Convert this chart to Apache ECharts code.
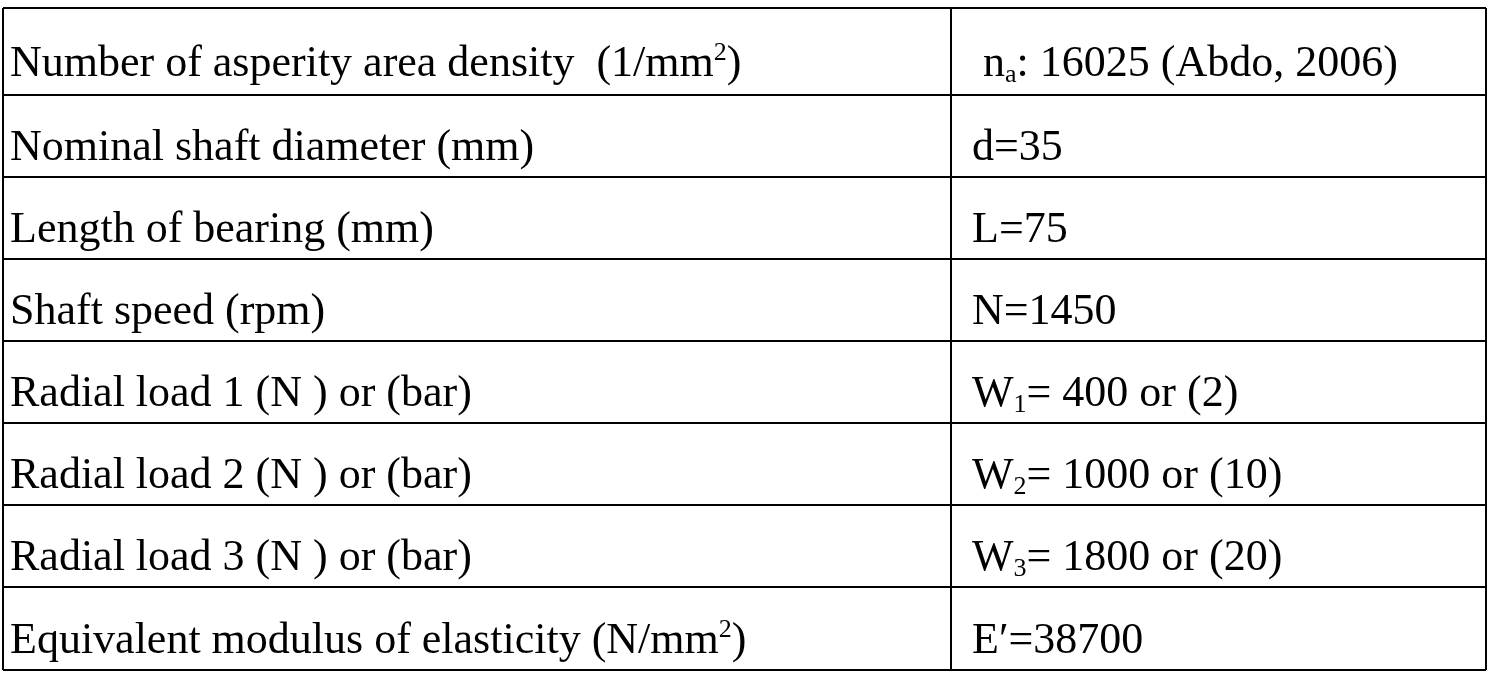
<!DOCTYPE html>
<html>
<head>
<meta charset="utf-8">
<title>Bearing parameters</title>
<script src="https://cdn.jsdelivr.net/npm/echarts@6/dist/echarts.min.js"></script>
<style>
  html, body { margin: 0; padding: 0; background: #fff; }
  #main { width: 1489px; height: 681px; }
</style>
</head>
<body>
<div id="main"></div>
<script>
// table content (rich text markup for sub/superscripts)
var paramNames = [
  'Number of asperity area density  (1/mm{sup|2})',
  'Nominal shaft diameter (mm)',
  'Length of bearing (mm)',
  'Shaft speed (rpm)',
  'Radial load 1 (N ) or (bar)',
  'Radial load 2 (N ) or (bar)',
  'Radial load 3 (N ) or (bar)',
  'Equivalent modulus of elasticity (N/mm{sup|2})'
];
var paramValues = [
  ' n{sub|a}: 16025 (Abdo, 2006)',
  'd=35',
  'L=75',
  'N=1450',
  'W{sub|1}= 400 or (2)',
  'W{sub|2}= 1000 or (10)',
  'W{sub|3}= 1800 or (20)',
  'E\u2032=38700'
];
// horizontal rule positions (px)
var rowLines = [8, 95, 177, 259, 341, 423, 505, 587, 670];

var chart = echarts.init(document.getElementById('main'));
var left = 3, right = 1486, mid = 951;
var font = '"Liberation Serif", "Times New Roman", serif';
var rich = {
  sup: { fontSize: 26, fontFamily: font, verticalAlign: 'top', lineHeight: 48, padding: [0, 0, 16, 0] },
  sub: { fontSize: 26, fontFamily: font, verticalAlign: 'bottom', lineHeight: 48, padding: [12, 0, 0, 0] }
};
var els = [];
rowLines.forEach(function (y) {
  els.push({ type: 'line', shape: { x1: left, y1: y, x2: right, y2: y }, style: { stroke: '#000', lineWidth: 2 } });
});
[left, mid, right].forEach(function (x) {
  els.push({ type: 'line', shape: { x1: x, y1: rowLines[0], x2: x, y2: rowLines[rowLines.length - 1] }, style: { stroke: '#000', lineWidth: 2 } });
});
paramNames.forEach(function (t, i) {
  var y = rowLines[i] + 0.65 * (rowLines[i + 1] - rowLines[i]);
  els.push({ type: 'text', x: 10, y: y, style: { text: t, rich: rich, fontFamily: font, fontSize: 44, fill: '#000', verticalAlign: 'middle', lineHeight: 48 } });
  els.push({ type: 'text', x: 972, y: y, style: { text: paramValues[i], rich: rich, fontFamily: font, fontSize: 44, fill: '#000', verticalAlign: 'middle', lineHeight: 48 } });
});
chart.setOption({ animation: false, graphic: { elements: els } });
</script>
</body>
</html>
